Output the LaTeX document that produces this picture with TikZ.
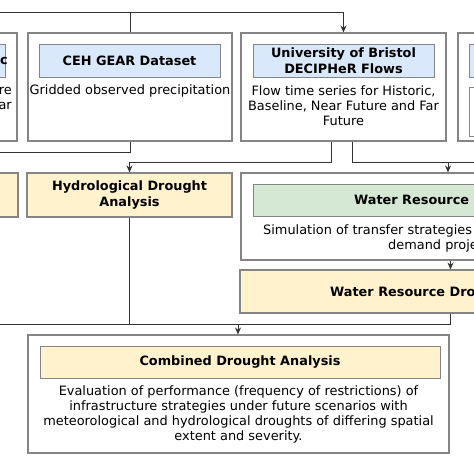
\documentclass[tikz,border=0pt]{standalone}
\usepackage{fontspec}
\setmainfont{DejaVu Sans}
\usetikzlibrary{arrows.meta}
\definecolor{bluefill}{HTML}{DAE8FC}
\definecolor{yelfill}{HTML}{FFF2CC}
\definecolor{grnfill}{HTML}{D5E8D4}
\definecolor{boxline}{HTML}{858585}
\definecolor{connc}{HTML}{333333}
\tikzset{
  outerbox/.style={draw=boxline, line width=1.1pt, fill=white, inner sep=0pt},
  bluebox/.style={draw=boxline, line width=1pt, fill=bluefill, inner sep=0pt},
  yelbox/.style={draw=boxline, line width=1.1pt, fill=yelfill, inner sep=0pt},
  grnbox/.style={draw=boxline, line width=1pt, fill=grnfill, inner sep=0pt},
  ttl/.style={font=\fontsize{12.85}{15.5}\selectfont\bfseries, align=center, inner sep=0pt},
  bodytxt/.style={font=\fontsize{12.9}{15}\selectfont, align=center, inner sep=0pt},
  conn/.style={draw=connc, line width=0.9pt},
  arr/.style={conn, -{Stealth[length=7pt,width=6pt]}},
}
\begin{document}
\begin{tikzpicture}[x=1pt,y=-1pt]
\useasboundingbox (0,0) rectangle (474,474);
\clip (0,0) rectangle (474,474);
\fill[white] (0,0) rectangle (474,474);
% left cut-off input box
\node[outerbox, minimum width=207pt, minimum height=108pt] (lbox) at (-86.5,87) {};
\node[bluebox, minimum width=185pt, minimum height=33pt] (lboxt) at (-87.5,60.5) {};
\node[ttl, anchor=west] (lboxtt) at (0,60.5) {c};
\node[bodytxt, anchor=east] (lboxb1) at (12,91) {re};
\node[bodytxt, anchor=east] (lboxb2) at (12,106) {ar};
% CEH GEAR
\node[outerbox, minimum width=204pt, minimum height=108pt] (ceh) at (130,87) {};
\node[bluebox, minimum width=181pt, minimum height=33pt] (ceht) at (129.5,60.5) {};
\node[ttl] (cehtt) at (129.5,60.5) {CEH GEAR Dataset};
\node[bodytxt] (cehb) at (130,91) {Gridded observed precipitation};
% Bristol
\node[outerbox, minimum width=205pt, minimum height=108pt] (bris) at (343.5,87) {};
\node[bluebox, minimum width=181pt, minimum height=33pt] (brist) at (343.5,60.5) {};
\node[ttl] (bristt) at (343.5,60.5) {University of Bristol\\DECIPHeR Flows};
\node[bodytxt] (brisb) at (343.5,106) {Flow time series for Historic,\\Baseline, Near Future and Far\\Future};
% right cut-off box
\node[outerbox, minimum width=205pt, minimum height=108pt] (rbox) at (560.5,87) {};
\node[bluebox, minimum width=181pt, minimum height=33pt] (rboxt) at (559.5,60.5) {};
\node[outerbox, line width=1pt, minimum width=181pt, minimum height=49pt] (rboxi) at (559.5,111.5) {};
% left cut-off yellow
\node[yelbox, minimum width=205pt, minimum height=44pt] (lyel) at (-84.5,195) {};
% Hydrological
\node[yelbox, minimum width=205pt, minimum height=44pt] (hydro) at (129.5,195) {};
\node[ttl, font=\fontsize{12.85}{16}\selectfont\bfseries] (hydrot) at (129.5,195) {Hydrological Drought\\Analysis};
% Water resource model
\node[outerbox, minimum width=419pt, minimum height=87pt] (wr) at (450.5,216.5) {};
\node[grnbox, minimum width=395pt, minimum height=32pt] (wrt) at (450.5,200) {};
\node[ttl, anchor=west] (wrtt) at (354,200) {Water Resource};
\node[bodytxt, anchor=west] (wrb1) at (263,231) {Simulation of transfer strategies};
\node[bodytxt, anchor=west] (wrb2) at (388,246) {demand proje};
% Water resource drought
\node[yelbox, minimum width=421pt, minimum height=43pt] (wrd) at (450.5,291.5) {};
\node[ttl, anchor=west] (wrdt) at (330,291.5) {Water Resource Dro};
% Combined
\node[outerbox, minimum width=421pt, minimum height=118pt] (comb) at (238.5,394) {};
\node[yelbox, line width=1pt, minimum width=400pt, minimum height=32pt] (combt) at (240,362) {};
\node[ttl] (combtt) at (240,362) {Combined Drought Analysis};
\node[bodytxt] (combb) at (238.5,414.5) {Evaluation of performance (frequency of restrictions) of\\infrastructure strategies under future scenarios with\\meteorological and hydrological droughts of differing spatial\\extent and severity.};
% connectors
\coordinate (tl) at (-5,12);
\coordinate (ml) at (-5,152);
\coordinate (rr) at (480,162);
\coordinate (bl) at (-5,324);
\draw[arr] (tl) -| (bris.north);
\draw[conn] (ceh.north) -- (ceh.north |- tl);
\draw[conn] (ceh.south) |- (ml);
\draw[arr] ([xshift=-12.5pt]bris.south) |- (hydro.north |- rr) -- (hydro.north);
\draw[conn] ([xshift=8.5pt]bris.south) |- (rr);
\draw[arr] ([xshift=-2.5pt]wr.north |- rr) -- ([xshift=-2.5pt]wr.north);
\draw[arr] (wr.south) -- (wrd.north);
\draw[conn] (hydro.south) |- (bl);
\draw[conn] (wrd.south) |- (hydro.south |- bl);
\draw[arr] ([xshift=-0.5pt]comb.north |- bl) -- ([xshift=-0.5pt]comb.north);
\end{tikzpicture}
\end{document}
